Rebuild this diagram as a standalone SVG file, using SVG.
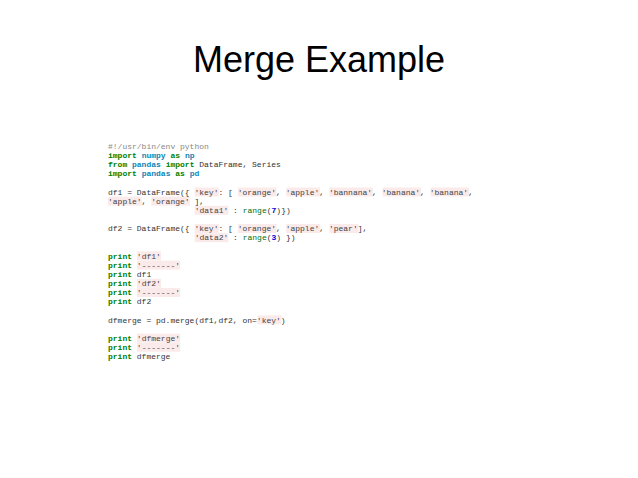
<svg xmlns="http://www.w3.org/2000/svg" width="638" height="478" viewBox="0 0 638 478">
<style>
.c text{font-family:"Liberation Mono","DejaVu Sans Mono",monospace;font-size:8px;fill:#333;white-space:pre}
.k{fill:#008000;font-weight:bold}
.m{fill:#0e84b5;font-weight:bold}
.n{fill:#0000dd;font-weight:bold}
.b{fill:#007020}
.g{fill:#888}
.s{fill:#444}
.sb{fill:#fbeaea}
</style>
<rect width="638" height="478" fill="#fff"/>
<text id="title" x="319" y="72" text-anchor="middle" font-family="Liberation Sans,Arial,sans-serif" font-size="36" fill="#000">Merge Example</text>
<g id="highlights">
<rect class="sb" x="194.7" y="187.5" width="24.1" height="9"/>
<rect class="sb" x="238" y="187.5" width="38.5" height="9"/>
<rect class="sb" x="286.2" y="187.5" width="33.7" height="9"/>
<rect class="sb" x="329.5" y="187.5" width="43.3" height="9"/>
<rect class="sb" x="382.5" y="187.5" width="38.5" height="9"/>
<rect class="sb" x="430.7" y="187.5" width="38.5" height="9"/>
<rect class="sb" x="108" y="196.6" width="33.7" height="9"/>
<rect class="sb" x="151.3" y="196.6" width="38.5" height="9"/>
<rect class="sb" x="194.7" y="205.8" width="33.7" height="9"/>
<rect class="sb" x="194.7" y="224" width="24.1" height="9"/>
<rect class="sb" x="238" y="224" width="38.5" height="9"/>
<rect class="sb" x="286.2" y="224" width="33.7" height="9"/>
<rect class="sb" x="329.5" y="224" width="28.9" height="9"/>
<rect class="sb" x="194.7" y="233.2" width="33.7" height="9"/>
<rect class="sb" x="136.9" y="251.4" width="24.1" height="9"/>
<rect class="sb" x="136.9" y="260.6" width="43.3" height="9"/>
<rect class="sb" x="136.9" y="278.8" width="24.1" height="9"/>
<rect class="sb" x="136.9" y="288" width="43.3" height="9"/>
<rect class="sb" x="257.3" y="315.4" width="24.1" height="9"/>
<rect class="sb" x="136.9" y="333.6" width="43.3" height="9"/>
<rect class="sb" x="136.9" y="342.8" width="43.3" height="9"/>
</g>
<g id="code" class="c">
<text x="108" y="149"><tspan class="g">#!/usr/bin/env python</tspan></text>
<text x="108" y="158.1"><tspan class="k">import</tspan> <tspan class="m">numpy</tspan> <tspan class="k">as</tspan> <tspan class="m">np</tspan></text>
<text x="108" y="167.3"><tspan class="k">from</tspan> <tspan class="m">pandas</tspan> <tspan class="k">import</tspan> DataFrame, Series</text>
<text x="108" y="176.4"><tspan class="k">import</tspan> <tspan class="m">pandas</tspan> <tspan class="k">as</tspan> <tspan class="m">pd</tspan></text>
<text x="108" y="194.6">df1 = DataFrame({ <tspan class="s">'key'</tspan>: [ <tspan class="s">'orange'</tspan>, <tspan class="s">'apple'</tspan>, <tspan class="s">'bannana'</tspan>, <tspan class="s">'banana'</tspan>, <tspan class="s">'banana'</tspan>,</text>
<text x="108" y="203.8"><tspan class="s">'apple'</tspan>, <tspan class="s">'orange'</tspan> ],</text>
<text x="194.7" y="212.9"><tspan class="s">'data1'</tspan> : <tspan class="b">range</tspan>(<tspan class="n">7</tspan>)})</text>
<text x="108" y="231.2">df2 = DataFrame({ <tspan class="s">'key'</tspan>: [ <tspan class="s">'orange'</tspan>, <tspan class="s">'apple'</tspan>, <tspan class="s">'pear'</tspan>],</text>
<text x="194.7" y="240.3"><tspan class="s">'data2'</tspan> : <tspan class="b">range</tspan>(<tspan class="n">3</tspan>) })</text>
<text x="108" y="258.6"><tspan class="k">print</tspan> <tspan class="s">'df1'</tspan></text>
<text x="108" y="267.7"><tspan class="k">print</tspan> <tspan class="s">'-------'</tspan></text>
<text x="108" y="276.9"><tspan class="k">print</tspan> df1</text>
<text x="108" y="286"><tspan class="k">print</tspan> <tspan class="s">'df2'</tspan></text>
<text x="108" y="295.1"><tspan class="k">print</tspan> <tspan class="s">'-------'</tspan></text>
<text x="108" y="304.3"><tspan class="k">print</tspan> df2</text>
<text x="108" y="322.5">dfmerge = pd.merge(df1,df2, on=<tspan class="s">'key'</tspan>)</text>
<text x="108" y="340.8"><tspan class="k">print</tspan> <tspan class="s">'dfmerge'</tspan></text>
<text x="108" y="349.9"><tspan class="k">print</tspan> <tspan class="s">'-------'</tspan></text>
<text x="108" y="359"><tspan class="k">print</tspan> dfmerge</text>
</g>
</svg>
